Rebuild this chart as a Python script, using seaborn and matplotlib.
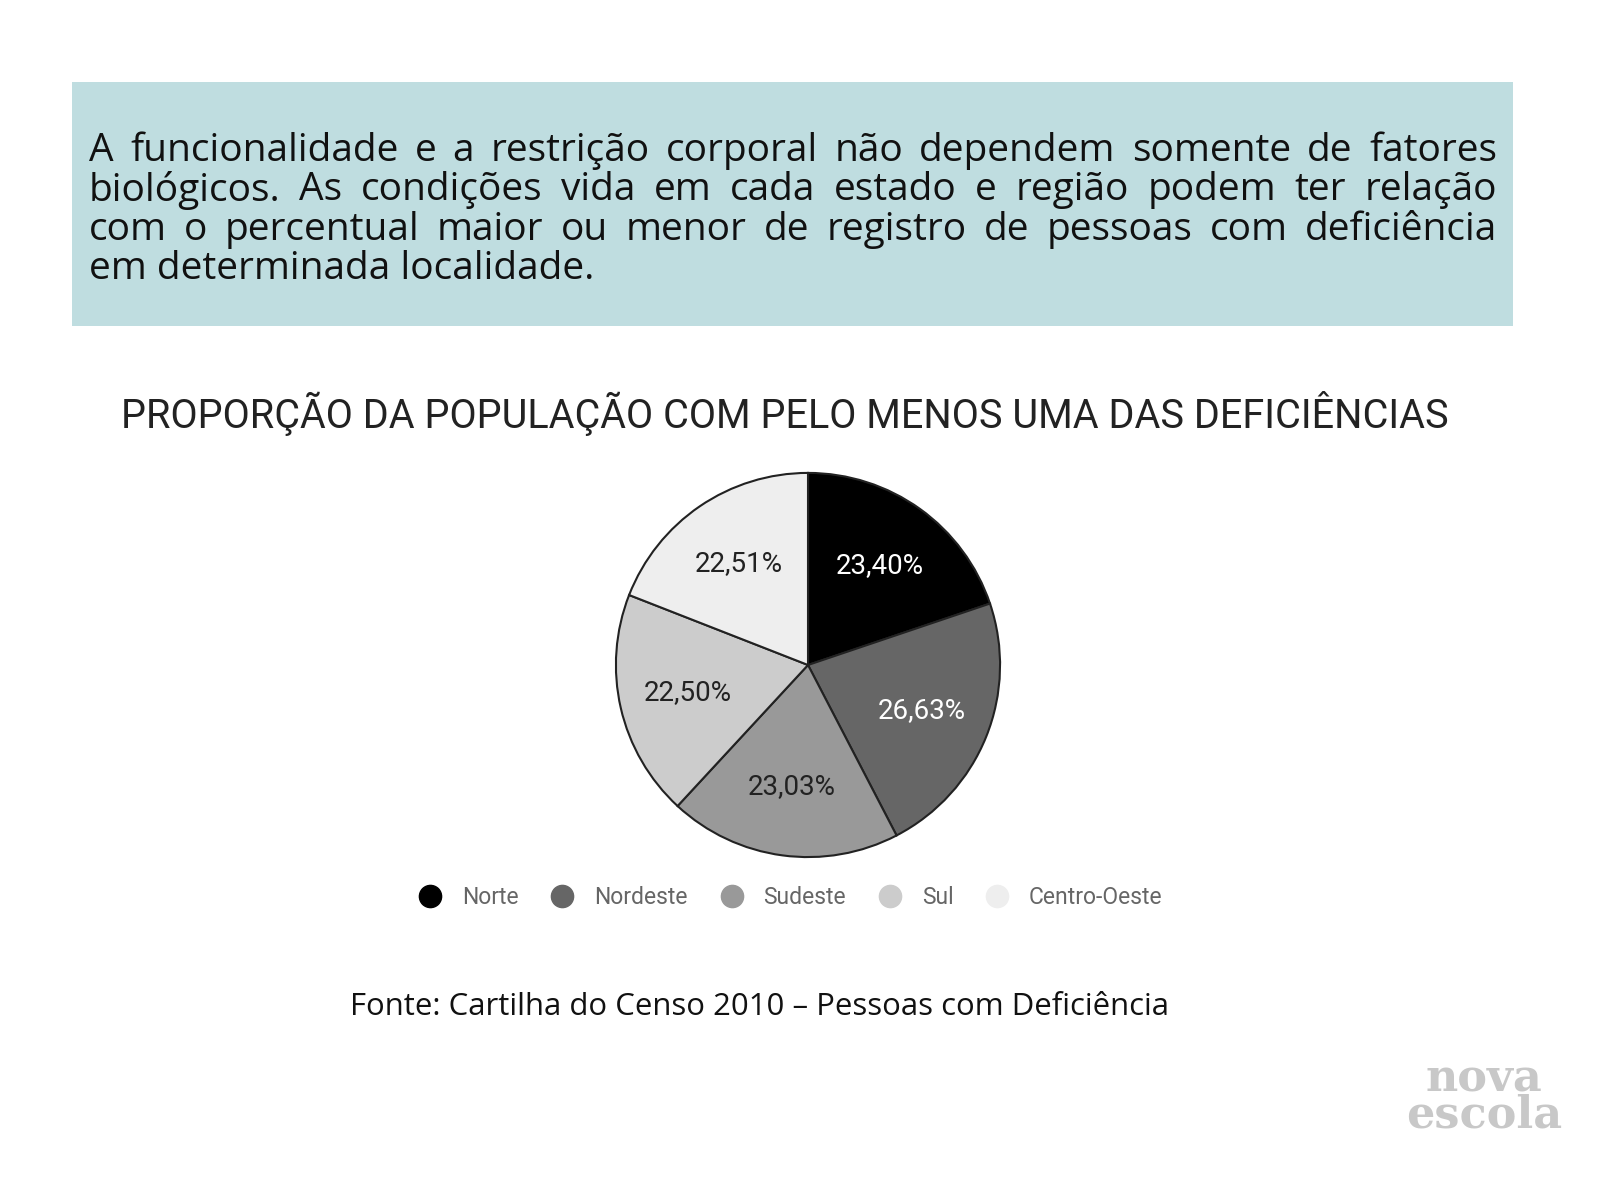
import matplotlib
matplotlib.use("Agg")
import matplotlib.pyplot as plt
from matplotlib.lines import Line2D
from matplotlib.patches import Rectangle
import seaborn as sns

regions = ["Norte", "Nordeste", "Sudeste", "Sul", "Centro-Oeste"]
values = [23.40, 26.63, 23.03, 22.50, 22.51]
slice_colors = ["#000000", "#666666", "#999999", "#cccccc", "#eeeeee"]
label_colors = ["white", "white", "#222222", "#222222", "#222222"]

intro_lines = [
    "A funcionalidade e a restrição corporal não dependem somente de fatores",
    "biológicos. As condições vida em cada estado e região podem ter relação",
    "com o percentual maior ou menor de registro de pessoas com deficiência",
    "em determinada localidade.",
]
title = "PROPORÇÃO DA POPULAÇÃO COM PELO MENOS UMA DAS DEFICIÊNCIAS"
source = "Fonte: Cartilha do Censo 2010 – Pessoas com Deficiência"

sns.set_theme(style="white")
W, H = 1600, 1200
fig = plt.figure(figsize=(16, 12), dpi=100)
fig.patch.set_facecolor("white")

# shaded text box
fig.patches.append(Rectangle((72 / W, 1 - 326 / H), (1513 - 72) / W, 244 / H,
                             transform=fig.transFigure, facecolor="#bfdde0",
                             edgecolor="none", zorder=0))

# justified paragraph
renderer = fig.canvas.get_renderer()
left, right = 89 / W, 1497 / W
for i, line in enumerate(intro_lines):
    y = 1 - (151 + i * 39.3) / H
    words = line.split(" ")
    if i == len(intro_lines) - 1:
        fig.text(left, y, line, fontsize=28, family="Open Sans", va="center", color="#111111")
        continue
    texts = [fig.text(0, y, w, fontsize=28, family="Open Sans", va="center", color="#111111")
             for w in words]
    widths = [t.get_window_extent(renderer).width / W for t in texts]
    gap = (right - left - sum(widths)) / (len(words) - 1)
    x = left
    for t, w in zip(texts, widths):
        t.set_x(x)
        x += w + gap

fig.text(785 / W, 1 - 413 / H, title, fontsize=28.5, family="Roboto", ha="center",
         va="center", color="#222222")

cx, cy, r = 808, 665, 194
ax = fig.add_axes([(cx - r) / W, 1 - (cy + r) / H, 2 * r / W, 2 * r / H])
total = sum(values)
wedges, _, autotexts = ax.pie(
    values, colors=slice_colors, startangle=90, counterclock=False,
    autopct=lambda p: f"{p * total / 100:.2f}%".replace(".", ","),
    pctdistance=0.64,
    wedgeprops=dict(edgecolor="#222222", linewidth=1.5),
    textprops=dict(fontsize=20, family="Roboto"),
)
for t, c in zip(autotexts, label_colors):
    t.set_color(c)
ax.set_xlim(-1.01, 1.01)
ax.set_ylim(-1.01, 1.01)
ax.set_aspect("equal")

handles = [Line2D([], [], marker="o", linestyle="", markersize=16, markerfacecolor=c,
                  markeredgecolor=c) for c in slice_colors]
fig.legend(handles, regions, loc="center", bbox_to_anchor=(785 / W, 1 - 898 / H),
           ncol=5, frameon=False, prop=dict(family="Roboto", size=16.5),
           labelcolor="#666666", columnspacing=0.9, handletextpad=0.4)

fig.text(760 / W, 1 - 1007 / H, source, fontsize=22.4, family="Open Sans", ha="center",
         va="center", color="#111111")

fig.text(1484 / W, 1 - 1097 / H, "nova\nescola", fontsize=32, family="DejaVu Serif",
         weight="bold", ha="center", va="center", color="#c8c8c8", linespacing=0.8)

fig.savefig("out.png", dpi=100)
